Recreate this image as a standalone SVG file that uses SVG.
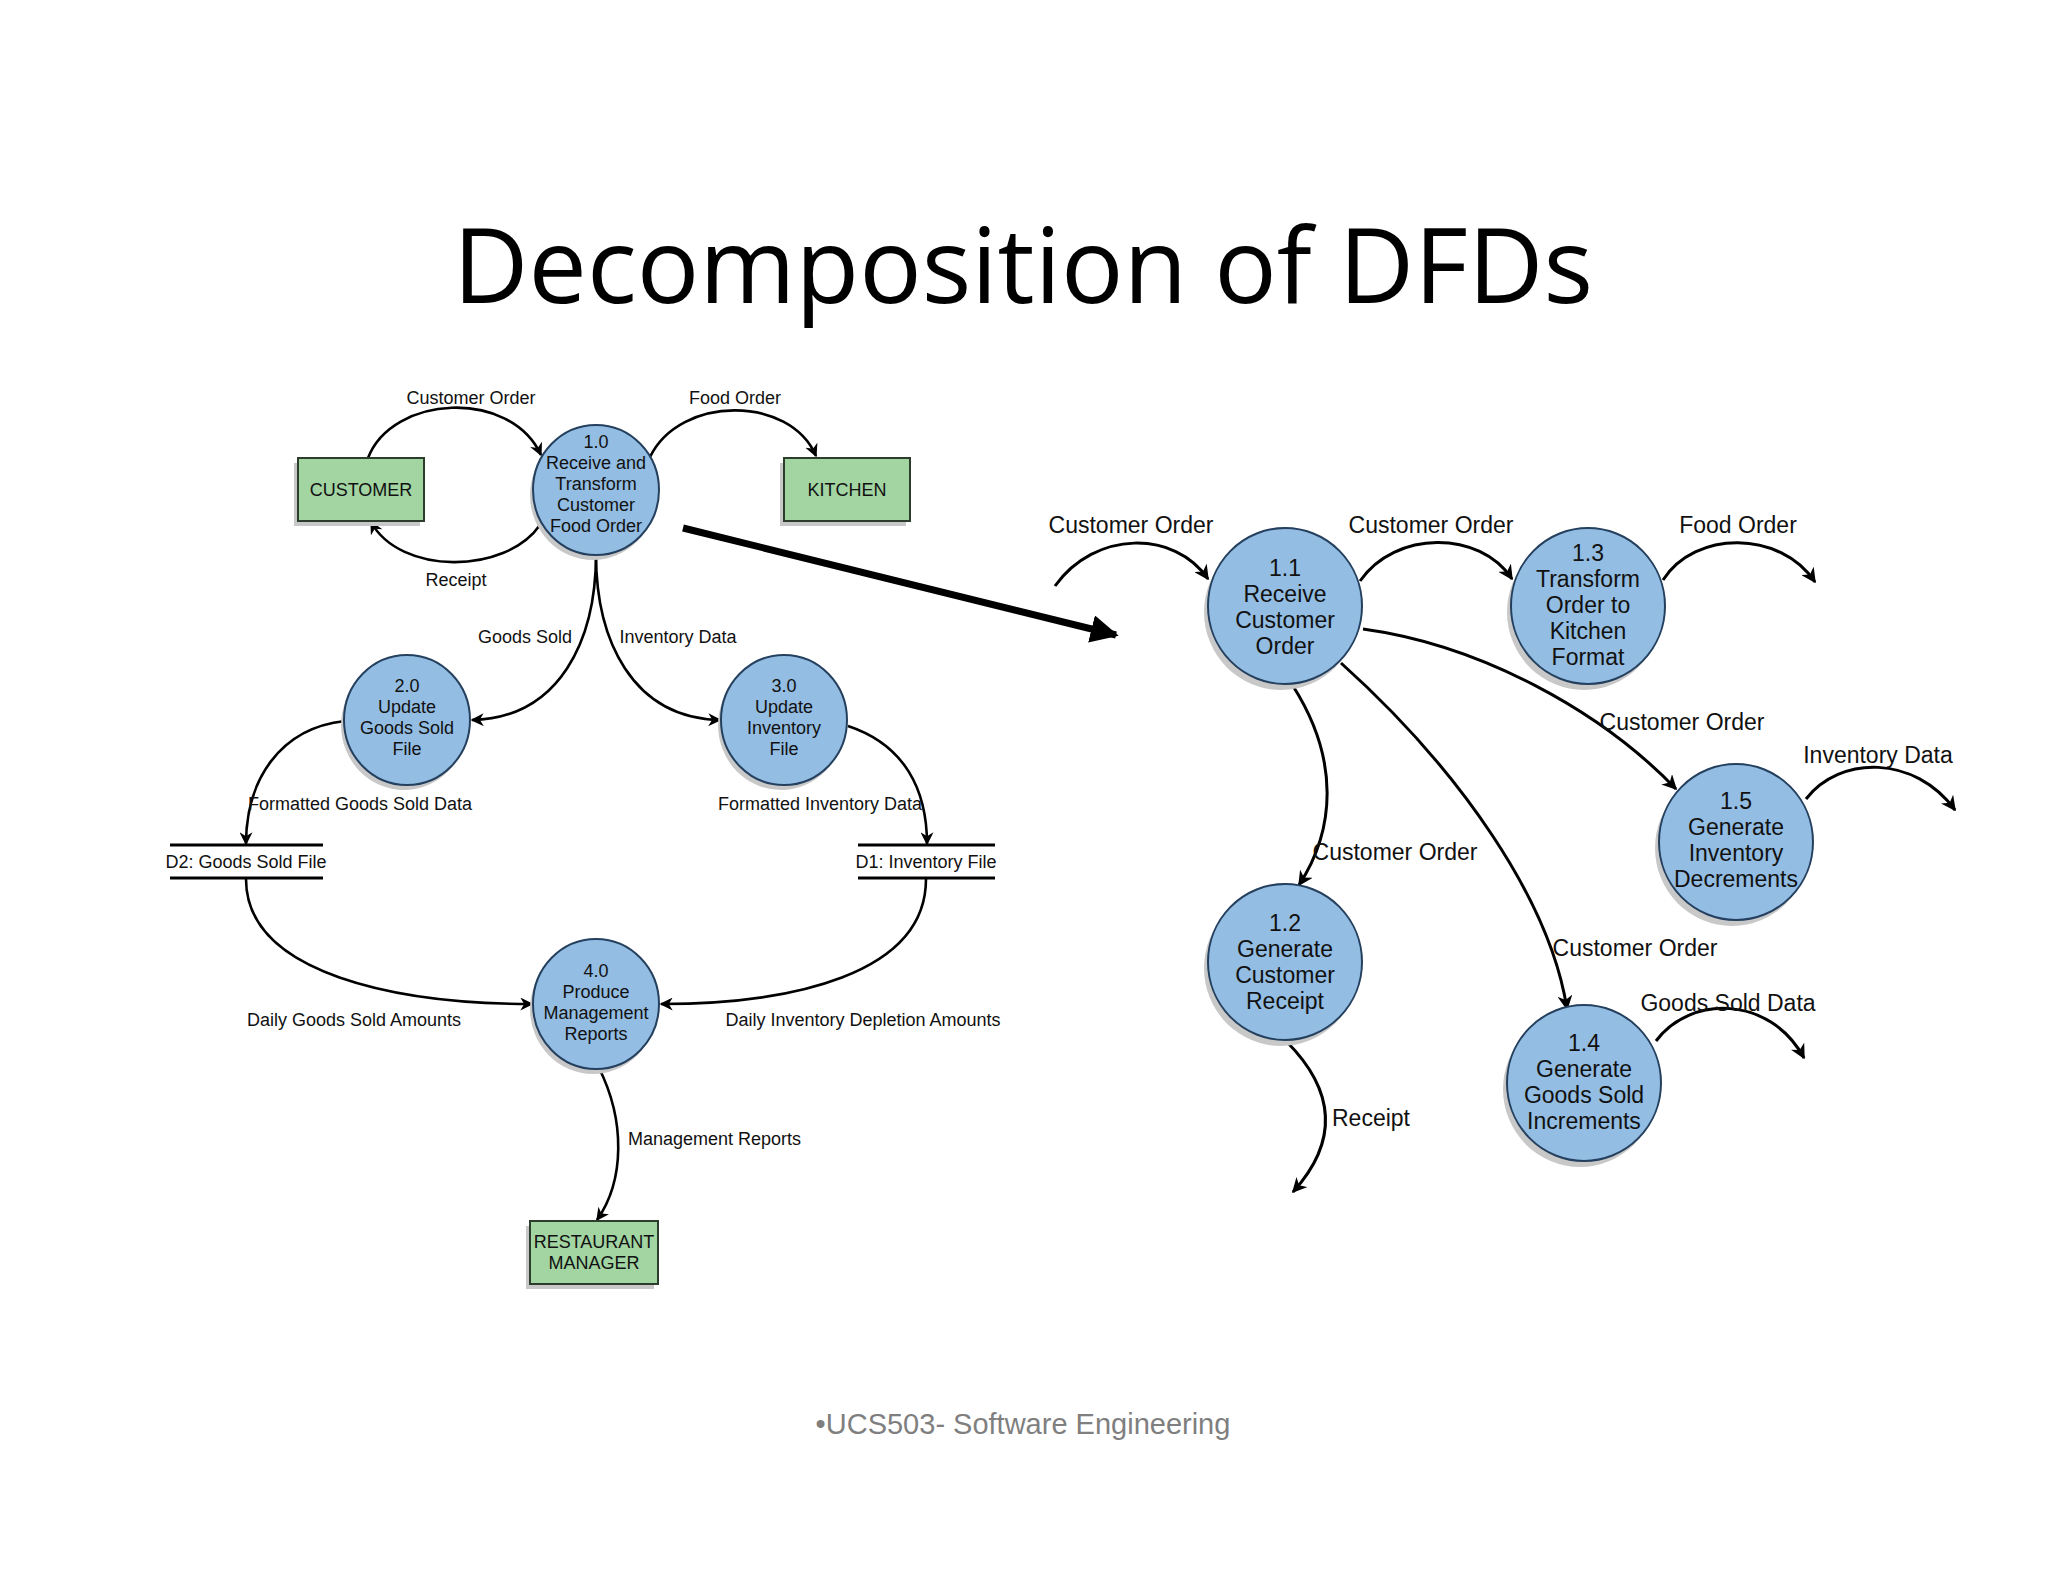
<svg xmlns="http://www.w3.org/2000/svg" width="2048" height="1582" viewBox="0 0 2048 1582">
<defs>
<marker id="ah" viewBox="0 0 10 10" refX="9" refY="5" markerWidth="5" markerHeight="5" orient="auto-start-reverse" markerUnits="strokeWidth"><path d="M0,0 L10,5 L0,10 L3,5 z" fill="#000"/></marker>
<marker id="big" viewBox="0 0 10 10" refX="9" refY="5" markerWidth="4" markerHeight="4" orient="auto" markerUnits="strokeWidth"><path d="M0,0 L10,5 L0,10 z" fill="#000"/></marker>
</defs>
<style>
.p{fill:#93bde2;stroke:#24405e;stroke-width:2}
.sh{fill:#c8c8c8}
.e{fill:#a2d5a2;stroke:#2d3d2d;stroke-width:2}
.t{font-family:"Liberation Sans Narrow","Liberation Sans",Arial,sans-serif;fill:#111;text-anchor:middle}
.s{font-size:18px}
.m{font-size:23px}
.c{fill:none;stroke:#000;stroke-width:2.6}
.c2{fill:none;stroke:#000;stroke-width:3}
</style>
<rect width="2048" height="1582" fill="#fff"/>
<text x="1023" y="303" font-family="'Open Sans','Noto Sans',sans-serif" font-size="104" text-anchor="middle" fill="#000">Decomposition of DFDs</text>
<text x="1023" y="1434" font-family="'Liberation Sans',Arial,sans-serif" font-size="29" text-anchor="middle" fill="#7f7f7f">•UCS503- Software Engineering</text>

<g id="connectors">
<path class="c" d="M368,458 C392,395 510,388 541,455" marker-end="url(#ah)"/>
<path class="c" d="M540,525 C505,575 400,575 371,522" marker-end="url(#ah)"/>
<path class="c" d="M650,457 C680,395 790,395 816,456" marker-end="url(#ah)"/>
<path class="c" d="M596,554 C596,640 560,718 472,720" marker-end="url(#ah)"/>
<path class="c" d="M596,554 C596,640 632,718 720,720" marker-end="url(#ah)"/>
<path class="c" d="M345,721 C280,728 246,780 246,844" marker-end="url(#ah)"/>
<path class="c" d="M848,726 C905,745 927,790 927,844" marker-end="url(#ah)"/>
<path class="c" d="M246,879 C246,975 400,1004 532,1004" marker-end="url(#ah)"/>
<path class="c" d="M926,879 C926,975 790,1004 661,1004" marker-end="url(#ah)"/>
<path class="c" d="M599,1068 C625,1120 625,1180 597,1220" marker-end="url(#ah)"/>
<line x1="683" y1="528" x2="1116" y2="635" stroke="#000" stroke-width="7" marker-end="url(#big)"/>

<path class="c2" d="M1055,586 C1095,530 1175,530 1208,579" marker-end="url(#ah)"/>
<path class="c2" d="M1360,581 C1395,530 1480,530 1512,579" marker-end="url(#ah)"/>
<path class="c2" d="M1663,580 C1695,530 1780,530 1815,582" marker-end="url(#ah)"/>
<path class="c2" d="M1363,629 C1480,645 1600,710 1676,789" marker-end="url(#ah)"/>
<path class="c2" d="M1806,799 C1840,755 1915,755 1955,810" marker-end="url(#ah)"/>
<path class="c2" d="M1293,686 C1340,760 1335,830 1299,885" marker-end="url(#ah)"/>
<path class="c2" d="M1341,663 C1460,770 1550,900 1567,1009" marker-end="url(#ah)"/>
<path class="c2" d="M1656,1041 C1690,995 1770,995 1804,1058" marker-end="url(#ah)"/>
<path class="c2" d="M1286,1041 C1335,1090 1340,1140 1293,1192" marker-end="url(#ah)"/>
</g>

<g class="t s">
<text x="471" y="404">Customer Order</text>
<text x="456" y="586">Receipt</text>
<text x="735" y="404">Food Order</text>
<text x="525" y="643">Goods Sold</text>
<text x="678" y="643">Inventory Data</text>
<text x="360" y="810">Formatted Goods Sold Data</text>
<text x="820" y="810">Formatted Inventory Data</text>
<text x="354" y="1026">Daily Goods Sold Amounts</text>
<text x="863" y="1026">Daily Inventory Depletion Amounts</text>
<text x="628" y="1145" text-anchor="start">Management Reports</text>
</g>
<g class="t m">
<text x="1131" y="533">Customer Order</text>
<text x="1431" y="533">Customer Order</text>
<text x="1738" y="533">Food Order</text>
<text x="1682" y="730">Customer Order</text>
<text x="1878" y="763">Inventory Data</text>
<text x="1395" y="860">Customer Order</text>
<text x="1635" y="956">Customer Order</text>
<text x="1728" y="1011">Goods Sold Data</text>
<text x="1371" y="1126">Receipt</text>
</g>

<g id="customer"><rect class="sh" x="294" y="463" width="126" height="63"/><rect class="e" x="298" y="458" width="126" height="63"/><text class="t s" x="361" y="496">CUSTOMER</text></g>
<g id="kitchen"><rect class="sh" x="780" y="463" width="126" height="63"/><rect class="e" x="784" y="458" width="126" height="63"/><text class="t s" x="847" y="496">KITCHEN</text></g>
<g id="manager"><rect class="sh" x="526" y="1226" width="128" height="63"/><rect class="e" x="530" y="1221" width="128" height="63"/><text class="t s" x="594" y="1248">RESTAURANT</text><text class="t s" x="594" y="1269">MANAGER</text></g>

<g id="p1"><ellipse class="sh" cx="593" cy="495" rx="63" ry="65"/><ellipse class="p" cx="596" cy="490" rx="63" ry="65"/>
<text class="t s" x="596"><tspan x="596" y="448">1.0</tspan><tspan x="596" y="469">Receive and</tspan><tspan x="596" y="490">Transform</tspan><tspan x="596" y="511">Customer</tspan><tspan x="596" y="532">Food Order</tspan></text></g>
<g id="p2"><ellipse class="sh" cx="404" cy="725" rx="63" ry="65"/><ellipse class="p" cx="407" cy="720" rx="63" ry="65"/>
<text class="t s"><tspan x="407" y="692">2.0</tspan><tspan x="407" y="713">Update</tspan><tspan x="407" y="734">Goods Sold</tspan><tspan x="407" y="755">File</tspan></text></g>
<g id="p3"><ellipse class="sh" cx="781" cy="725" rx="63" ry="65"/><ellipse class="p" cx="784" cy="720" rx="63" ry="65"/>
<text class="t s"><tspan x="784" y="692">3.0</tspan><tspan x="784" y="713">Update</tspan><tspan x="784" y="734">Inventory</tspan><tspan x="784" y="755">File</tspan></text></g>
<g id="p4"><ellipse class="sh" cx="593" cy="1009" rx="63" ry="65"/><ellipse class="p" cx="596" cy="1004" rx="63" ry="65"/>
<text class="t s"><tspan x="596" y="977">4.0</tspan><tspan x="596" y="998">Produce</tspan><tspan x="596" y="1019">Management</tspan><tspan x="596" y="1040">Reports</tspan></text></g>

<g id="d2"><line x1="170" y1="845" x2="323" y2="845" stroke="#000" stroke-width="3"/><line x1="170" y1="878" x2="323" y2="878" stroke="#000" stroke-width="3"/><text class="t s" x="246" y="868">D2: Goods Sold File</text></g>
<g id="d1"><line x1="858" y1="845" x2="995" y2="845" stroke="#000" stroke-width="3"/><line x1="858" y1="878" x2="995" y2="878" stroke="#000" stroke-width="3"/><text class="t s" x="926" y="868">D1: Inventory File</text></g>

<g id="p11"><ellipse class="sh" cx="1281" cy="612" rx="77" ry="78"/><ellipse class="p" cx="1285" cy="606" rx="77" ry="78"/>
<text class="t m"><tspan x="1285" y="576">1.1</tspan><tspan x="1285" y="602">Receive</tspan><tspan x="1285" y="628">Customer</tspan><tspan x="1285" y="654">Order</tspan></text></g>
<g id="p13"><ellipse class="sh" cx="1584" cy="612" rx="77" ry="78"/><ellipse class="p" cx="1588" cy="606" rx="77" ry="78"/>
<text class="t m"><tspan x="1588" y="561">1.3</tspan><tspan x="1588" y="587">Transform</tspan><tspan x="1588" y="613">Order to</tspan><tspan x="1588" y="639">Kitchen</tspan><tspan x="1588" y="665">Format</tspan></text></g>
<g id="p15"><ellipse class="sh" cx="1732" cy="848" rx="77" ry="78"/><ellipse class="p" cx="1736" cy="842" rx="77" ry="78"/>
<text class="t m"><tspan x="1736" y="809">1.5</tspan><tspan x="1736" y="835">Generate</tspan><tspan x="1736" y="861">Inventory</tspan><tspan x="1736" y="887">Decrements</tspan></text></g>
<g id="p12"><ellipse class="sh" cx="1281" cy="968" rx="77" ry="78"/><ellipse class="p" cx="1285" cy="962" rx="77" ry="78"/>
<text class="t m"><tspan x="1285" y="931">1.2</tspan><tspan x="1285" y="957">Generate</tspan><tspan x="1285" y="983">Customer</tspan><tspan x="1285" y="1009">Receipt</tspan></text></g>
<g id="p14"><ellipse class="sh" cx="1580" cy="1089" rx="77" ry="78"/><ellipse class="p" cx="1584" cy="1083" rx="77" ry="78"/>
<text class="t m"><tspan x="1584" y="1051">1.4</tspan><tspan x="1584" y="1077">Generate</tspan><tspan x="1584" y="1103">Goods Sold</tspan><tspan x="1584" y="1129">Increments</tspan></text></g>
</svg>
